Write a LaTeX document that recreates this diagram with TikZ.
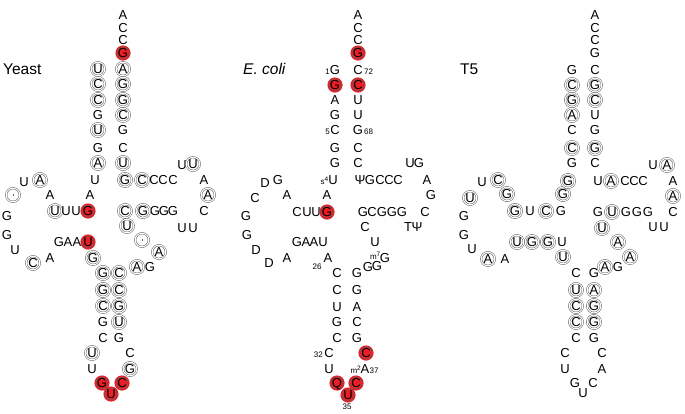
\documentclass[tikz,border=0pt]{standalone}
\usepackage{fontspec}
\setmainfont{Liberation Sans}
\usepackage{tikz}
\usetikzlibrary{calc}
\definecolor{hlred}{RGB}{234,30,36}
\definecolor{ringgray}{RGB}{95,95,95}
\newcommand{\supsm}[1]{\raisebox{2.6pt}{\fontsize{6.5}{7}\selectfont #1}}

\begin{document}
\begin{tikzpicture}[x=1pt,y=-1pt,
  nt/.style={inner sep=0pt,text height=9.3pt,text depth=0pt,font=\fontsize{13}{15}\selectfont},
  ntc/.style={nt,circle,minimum size=13.6pt,draw=ringgray,line width=0.5pt,double=white,double distance=1pt},
  ntr/.style={nt,circle,minimum size=15.2pt,fill=hlred,
    path picture={\draw[ringgray,line width=0.55pt] (path picture bounding box.center) circle (6pt);}},
  ntdot/.style={ntc,path picture={\draw[line width=0.6pt] ($(path picture bounding box.center)+(0,-1.3)$) -- ++(0,2.6);}},
  sm/.style={inner sep=0pt,font=\fontsize{8}{9}\selectfont},
  ttl/.style={anchor=west,inner sep=0pt,font=\fontsize{15.5}{18}\selectfont}]
  \useasboundingbox (0,0) rectangle (685,413);
  % titles
  \node[ttl] (yeast) at (3,69) {Yeast};
  \node[ttl] (ecoli) at (243,69) {\itshape E. coli};
  \node[ttl] (tfive) at (460,69) {T5};
  % yeast
  \foreach \x/\y/\nb/\st [count=\i] in {
    123/15/A/nt, 123/28/C/nt, 123/40/C/nt, 123/53/G/ntr, 123/69/A/ntc, 123/84/G/ntc,
    123/100/G/ntc, 123/115/C/ntc, 123/130/G/nt, 123/148/C/nt, 123/163/U/ntc,
    125/180/G/ntc, 142/180/C/ntc, 154/180/C/nt, 163/180/C/nt, 173/180/C/nt,
    182/165/U/nt, 193/164/U/ntc, 204/180/A/nt, 208/195/A/ntc, 204/211/C/nt,
    193/228/U/nt, 182/228/U/nt, 173/211/G/nt, 164/211/G/nt, 155/211/G/nt,
    143/211/G/ntc, 125/211/C/ntc,
    127/226/U/ntc, 142/240/{}/ntdot, 159/252/A/ntc, 150/267/G/nt, 137/267/A/ntc,
    119/273/C/ntc, 119/290/C/ntc, 119/306/G/ntc, 119/322/U/ntc, 119/338/G/nt,
    130/353/C/nt, 130/369/G/ntc, 122/383/C/ntr, 111/394/U/ntr, 102/383/G/ntr,
    92/369/U/nt, 92/353/U/ntc,
    103/338/C/nt, 103/322/G/nt, 103/306/C/ntc, 103/290/G/ntc, 103/273/G/ntc, 93/258/G/ntc,
    88/242/U/ntr, 77/242/A/nt, 68/242/A/nt, 59/242/G/nt, 50/258/A/nt, 33/263/C/ntc,
    15/250/U/nt, 7/235/G/nt, 7/216/G/nt, 13/195/{}/ntdot, 24/182/U/nt, 40/180/A/ntc,
    50/195/A/nt, 55/211/U/ntc, 66/211/U/nt, 76/211/U/nt, 88/211/G/ntr,
    90/195/A/nt, 95/180/U/nt, 98/163/A/ntc, 98/148/G/nt, 98/130/U/ntc, 98/115/G/nt,
    98/100/C/ntc, 98/84/C/ntc, 98/69/U/ntc}
    \node[\st] (Y\i) at (\x,\y) {\nb};
  % E. coli
  \foreach \x/\y/\nb/\st [count=\i] in {
    358/15/A/nt, 358/28/C/nt, 358/40/C/nt, 358/53/G/ntr, 358/70/C/nt, 358/85/C/ntr,
    358/100/U/nt, 358/115/U/nt, 358/130/G/nt, 358/148/C/nt, 358/163/C/nt,
    360/180/Ψ/nt, 370/180/G/nt, 380/180/C/nt, 389/180/C/nt, 398/180/C/nt,
    410/163/U/nt, 419/163/G/nt, 427/180/A/nt, 431/195/G/nt, 425/212/C/nt,
    417/227/Ψ/nt, 408/227/T/nt, 402/212/G/nt, 392/212/G/nt, 382/212/G/nt,
    372/212/C/nt, 363/212/G/nt,
    365/227/C/nt, 375/242/U/nt, 385/258/G/nt, 377/266/G/nt, 368/267/G/nt,
    357/273/G/nt, 357/290/G/nt, 357/307/A/nt, 357/322/C/nt, 357/338/G/nt,
    366/353/C/ntr, 365/369/A/nt, 356/383/C/ntr, 348/395/U/ntr, 337/383/Q/ntr,
    329/369/U/nt, 329/353/C/nt,
    337/338/C/nt, 337/322/G/nt, 337/307/U/nt, 337/290/C/nt, 337/273/C/nt, 328/258/A/nt,
    323/242/U/nt, 314/242/A/nt, 306/242/A/nt, 297/242/G/nt, 287/258/A/nt, 269/263/D/nt,
    256/250/D/nt, 247/235/G/nt, 246/216/G/nt, 255/198/C/nt, 265/183/D/nt, 278/180/G/nt,
    287/195/A/nt, 297/212/C/nt, 307/212/U/nt, 316/212/U/nt, 327/212/G/ntr,
    327/195/A/nt, 333/180/U/nt, 335/163/G/nt, 335/148/G/nt, 335/130/C/nt, 335/115/G/nt,
    335/100/A/nt, 335/85/G/ntr, 335/70/G/nt}
    \node[\st] (E\i) at (\x,\y) {\nb};
  % E. coli numbering and modifications
  \node[sm,anchor=base east] (e1) at (330,74.5) {1};
  \node[sm,anchor=base west] (e72) at (364,74.5) {72};
  \node[sm,anchor=base east] (e5) at (330,134.5) {5};
  \node[sm,anchor=base west] (e68) at (364,134.5) {68};
  \node[sm,anchor=base east] (es4) at (328.5,184.5) {s\supsm{4}};
  \node[sm] (e26) at (317,267) {26};
  \node[sm,anchor=base east] (em7) at (380.5,259) {m\supsm{7}};
  \node[sm,anchor=base east] (e32) at (323,357.5) {32};
  \node[sm,anchor=base east] (em2) at (361,373.5) {m\supsm{2}};
  \node[sm,anchor=base west] (e37) at (369.5,373.5) {37};
  \node[sm] (e35) at (347,407) {35};
  % T5
  \foreach \x/\y/\nb/\st [count=\i] in {
    595/15/A/nt, 595/28/C/nt, 595/40/C/nt, 595/53/G/nt, 595/70/C/nt, 595/85/G/ntc,
    595/100/C/ntc, 595/115/U/nt, 595/130/G/nt, 595/148/G/ntc, 595/163/C/nt,
    598/181/U/nt, 611/181/A/ntc, 625/181/C/nt, 634/181/C/nt, 643/181/C/nt,
    653/165/U/nt, 667/165/A/ntc, 673/181/A/nt, 673/196/A/ntc, 673/212/C/nt,
    664/227/U/nt, 653/227/U/nt, 648/212/G/nt, 637/212/G/nt, 626/212/G/nt,
    612/212/U/ntc, 598/212/G/nt,
    602/228/U/ntc, 618/242/A/ntc, 630/257/A/ntc, 618/267/G/nt, 605/267/A/ntc,
    594/273/G/nt, 594/290/A/ntc, 594/306/G/ntc, 594/322/G/ntc, 594/338/G/nt,
    602/353/C/nt, 602/369/A/nt, 593/383/C/nt, 583/393/U/nt, 575/383/G/nt,
    565/369/U/nt, 565/353/C/nt,
    576/338/C/nt, 576/322/C/ntc, 576/306/C/ntc, 576/290/U/ntc, 576/273/C/nt, 563/257/U/ntc,
    562/242/U/nt, 548/242/G/ntc, 532/242/G/ntc, 517/242/U/ntc, 505/259/A/nt, 488/259/A/ntc,
    472/249/U/nt, 464/235/G/nt, 464/216/G/nt, 470/198/U/ntc, 482/182/U/nt, 498/180/C/ntc,
    507/194/G/ntc, 515/211/G/ntc, 530/211/U/nt, 546/211/C/ntc, 561/211/G/nt,
    563/194/G/ntc, 568/181/G/ntc, 572/163/G/nt, 572/148/C/ntc, 572/130/C/nt,
    572/115/A/ntc, 572/100/G/ntc, 572/85/C/ntc, 572/70/G/nt}
    \node[\st] (T\i) at (\x,\y) {\nb};
\end{tikzpicture}
\end{document}
